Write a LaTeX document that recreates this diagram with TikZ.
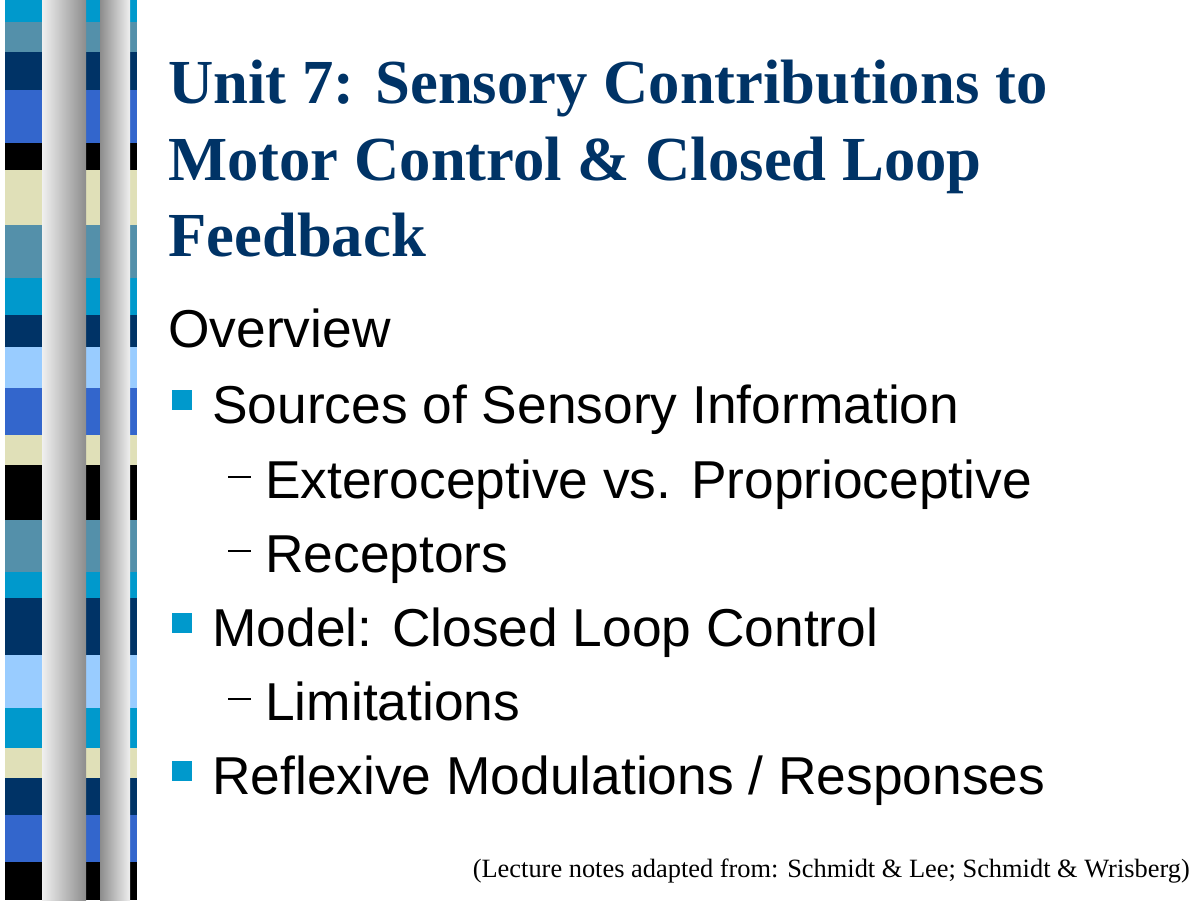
\documentclass[tikz,border=0pt]{standalone}
\usepackage{fontspec}
\setmainfont{Liberation Serif}
\setsansfont{Liberation Sans}
\begin{document}
\begin{tikzpicture}[x=0.75pt,y=-0.75pt,
  ttl/.style={anchor=base west,inner sep=0,font=\fontsize{47}{50}\selectfont\bfseries,text=navy},
  body/.style={anchor=base west,inner sep=0,font=\sffamily\fontsize{40}{44}\selectfont},
  sq/.style={fill=bulc,draw=none}]
\definecolor{navy}{HTML}{003366}
\definecolor{bulc}{HTML}{0099CC}
\definecolor{cC}{HTML}{0099CC}
\definecolor{cS}{HTML}{5490AA}
\definecolor{cN}{HTML}{003366}
\definecolor{cB}{HTML}{3366CC}
\definecolor{cK}{HTML}{000000}
\definecolor{cE}{HTML}{E0E0B8}
\definecolor{cL}{HTML}{99CCFF}
\useasboundingbox (0,0) rectangle (1200,900);
\fill[white] (0,0) rectangle (1200,900);
\foreach \a/\b/\c in {0/22/cC,22/52/cS,52/90/cN,90/143/cB,143/170/cK,170/225/cE,225/278/cS,278/315/cC,315/347/cN,347/388/cL,388/435/cB,435/465/cE,465/520/cK,520/572/cS,572/598/cC,598/655/cN,655/708/cL,708/748/cC,748/778/cE,778/815/cN,815/862/cB,862/900/cK}
  \fill[\c] (5,\a) rectangle (137,\b);
\shade[left color=gray!12,right color=gray!90] (42,0) rectangle (86,900);
\shade[left color=gray!90,right color=gray!12] (100,0) rectangle (130,900);
\node[ttl] (t1) at (168,103) {Unit 7: Sensory Contributions to};
\node[ttl] (t2) at (168,180) {Motor Control \& Closed Loop};
\node[ttl] (t3) at (168,256) {Feedback};
\node[body] (o) at (168,347) {Overview};
\fill[sq] (172,390) rectangle (192,410);
\node[body] (b1) at (212,423) {Sources of Sensory Information};
\fill (228,476) rectangle (251,478);
\node[body] (d1) at (265,498) {Exteroceptive vs. Proprioceptive};
\fill (228,550) rectangle (251,552);
\node[body] (d2) at (265,572) {Receptors};
\fill[sq] (172,613) rectangle (192,633);
\node[body] (b2) at (212,646) {Model: Closed Loop Control};
\fill (228,698) rectangle (251,700);
\node[body] (d3) at (265,720) {Limitations};
\fill[sq] (172,761) rectangle (192,781);
\node[body] (b3) at (212,794) {Reflexive Modulations / Responses};
\node[anchor=base east,inner sep=0,font=\fontsize{19.8}{22}\selectfont] (f) at (1190,877) {(Lecture notes adapted from: Schmidt \& Lee; Schmidt \& Wrisberg)};
\end{tikzpicture}
\end{document}
